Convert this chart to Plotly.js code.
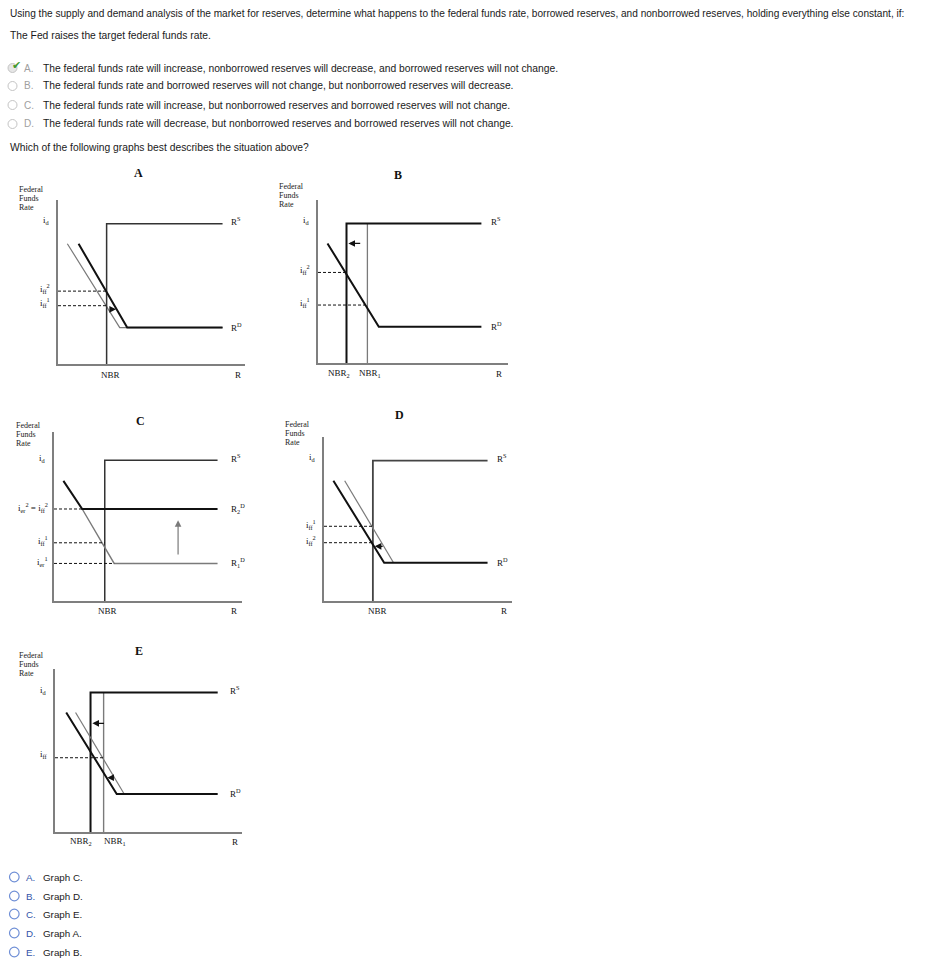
<!DOCTYPE html>
<html><head><meta charset="utf-8">
<script src="https://cdn.plot.ly/plotly-3.0.1.min.js"></script>
<style>html,body{margin:0;padding:0;background:#fff}#chart{width:939px;height:966px}</style>
</head><body><div id="chart"></div>
<script>
// ---------- question text ----------
const questionLines = [
  'Using the supply and demand analysis of the market for reserves, determine what happens to the federal funds rate, borrowed reserves, and nonborrowed reserves, holding everything else constant, if:',
  'The Fed raises the target federal funds rate.'
];
const answerLetters = ['A.', 'B.', 'C.', 'D.'];
const answerTexts = [
  'The federal funds rate will increase, nonborrowed reserves will decrease, and borrowed reserves will not change.',
  'The federal funds rate and borrowed reserves will not change, but nonborrowed reserves will decrease.',
  'The federal funds rate will increase, but nonborrowed reserves and borrowed reserves will not change.',
  'The federal funds rate will decrease, but nonborrowed reserves and borrowed reserves will not change.'
];
const question2 = 'Which of the following graphs best describes the situation above?';
const choiceLetters = ['A.', 'B.', 'C.', 'D.', 'E.'];
const choiceTexts = ['Graph C.', 'Graph D.', 'Graph E.', 'Graph A.', 'Graph B.'];
const yAxisLines = ['Federal', 'Funds', 'Rate'];

// ---------- Graph A ----------
const aSupplyX = [2.6, 2.6, 8.8];
const aSupplyY = [0, 7.7, 7.7];
const aDemand1X = [0.5, 3.3, 8.8];
const aDemand1Y = [6.6, 2.0, 2.0];
const aDemand2X = [1.1, 3.7, 8.8];
const aDemand2Y = [6.6, 2.0, 2.0];
const aRateLevels = [4.0, 3.2];
const aRateLabels = ['i<sub>ff</sub><sup>2</sup>', 'i<sub>ff</sub><sup>1</sup>'];
const aArrowX = [2.7, 3.1];
const aArrowY = [3.0, 3.0];

// ---------- Graph B ----------
const bNBR1X = [2.6, 2.6];
const bNBR1Y = [0, 7.7];
const bSupplyX = [1.5, 1.5, 8.6];
const bSupplyY = [0, 7.7, 7.7];
const bDemandX = [0.5, 3.2, 8.6];
const bDemandY = [6.6, 2.0, 2.0];
const bRateLevels = [5.0, 3.2];
const bRateEnds = [1.5, 2.6];
const bRateLabels = ['i<sub>ff</sub><sup>2</sup>', 'i<sub>ff</sub><sup>1</sup>'];
const bArrowX = [2.3, 1.6];
const bArrowY = [6.6, 6.6];

// ---------- Graph C ----------
const cSupplyX = [2.7, 2.7, 8.7];
const cSupplyY = [0, 7.5, 7.5];
const cDemand1X = [1.5, 3.2, 8.7];
const cDemand1Y = [4.9, 2.0, 2.0];
const cDemand2X = [0.5, 1.5, 8.7];
const cDemand2Y = [6.4, 4.9, 4.9];
const cRateLevels = [4.9, 3.1, 2.0];
const cRateEnds = [1.5, 2.7, 3.2];
const cRateLabels = ['i<sub>er</sub><sup>2</sup> = i<sub>ff</sub><sup>2</sup>', 'i<sub>ff</sub><sup>1</sup>', 'i<sub>er</sub><sup>1</sup>'];
const cArrowX = [6.6, 6.6];
const cArrowY = [2.4, 4.3];

// ---------- Graph D ----------
const dSupplyX = [2.6, 2.6, 8.7];
const dSupplyY = [0, 7.7, 7.7];
const dDemand1X = [1.1, 3.7];
const dDemand1Y = [6.6, 2.1];
const dDemand2X = [0.5, 3.2, 8.7];
const dDemand2Y = [6.6, 2.1, 2.1];
const dRateLevels = [4.1, 3.2];
const dRateLabels = ['i<sub>ff</sub><sup>1</sup>', 'i<sub>ff</sub><sup>2</sup>'];
const dArrowX = [3.2, 2.7];
const dArrowY = [3.0, 3.0];

// ---------- Graph E ----------
const eNBR1X = [2.6, 2.6];
const eNBR1Y = [0, 7.7];
const eSupplyX = [1.9, 1.9, 8.7];
const eSupplyY = [0, 7.7, 7.7];
const eDemand1X = [1.1, 3.7];
const eDemand1Y = [6.6, 2.1];
const eDemand2X = [0.6, 3.3, 8.7];
const eDemand2Y = [6.6, 2.1, 2.1];
const eRateLevels = [4.1];
const eRateLabels = ['i<sub>ff</sub>'];
const eArrow1X = [2.7, 2.0];
const eArrow1Y = [6.0, 6.0];
const eArrow2X = [3.2, 2.8];
const eArrow2Y = [3.0, 3.0];

// ---------- styling / helpers ----------
const W = 939, H = 966;
const SANS = 'Liberation Sans, Arial, sans-serif';
const SERIF = 'Liberation Serif, Times New Roman, serif';
const BLACK = '#111111', GREY = '#7a7a7a', DARK = '#333333';
const sfx = n => (n > 1 ? String(n) : '');
const boxes = [
  {x0: 58, x1: 245, y0: 364, y1: 200, xr: 10, yr: 9},
  {x0: 318, x1: 508, y0: 363, y1: 200, xr: 10, yr: 9},
  {x0: 54, x1: 242, y0: 601, y1: 432, xr: 10, yr: 9},
  {x0: 324, x1: 512, y0: 601, y1: 437, xr: 10, yr: 9},
  {x0: 55, x1: 242, y0: 832, y1: 669, xr: 10, yr: 9}
];

const traces = [];
const annotations = [];
const shapes = [];

function px(x) { return x / W; }
function py(y) { return 1 - y / H; }
function line(ax, xs, ys, color, width, dash) {
  traces.push({type: 'scatter', mode: 'lines', x: xs, y: ys,
    xaxis: 'x' + sfx(ax), yaxis: 'y' + sfx(ax),
    line: {color: color, width: width, dash: dash || 'solid'},
    hoverinfo: 'skip', showlegend: false, cliponaxis: false});
}
function dashed(ax, level, end) { line(ax, [0, end], [level, level], BLACK, 1, '3px,2px'); }
function toPix(ax, x, y) {
  const b = boxes[ax - 1];
  return [b.x0 + x / b.xr * (b.x1 - b.x0), b.y0 - y / b.yr * (b.y0 - b.y1)];
}
// labels are placed in paper space (converted from the graph's own units) so they may sit outside the axes
function lab(ax, x, y, text, o) {
  const p = toPix(ax, x, y);
  annotations.push(Object.assign({xref: 'paper', yref: 'paper', x: px(p[0]), y: py(p[1]), text: text,
    showarrow: false, font: {family: SERIF, size: 9, color: BLACK}, xanchor: 'center', yanchor: 'middle'}, o || {}));
}
function arrow(ax, xs, ys, color) {
  const r = sfx(ax);
  annotations.push({xref: 'x' + r, yref: 'y' + r, axref: 'x' + r, ayref: 'y' + r,
    x: xs[1], y: ys[1], ax: xs[0], ay: ys[0], text: '', showarrow: true,
    arrowhead: 2, arrowsize: 1.1, arrowwidth: 1.2, arrowcolor: color || BLACK});
}
function title(ax, x, y, t) { lab(ax, x, y, '<b>' + t + '</b>', {font: {family: SERIF, size: 12, color: BLACK}}); }
function ffr(ax, x, y) {
  const p = toPix(ax, x, y);
  yAxisLines.forEach((t, i) => {
    annotations.push({xref: 'paper', yref: 'paper', x: px(p[0]), y: py(p[1] + 9 * i), text: t,
      showarrow: false, xanchor: 'left', yanchor: 'middle', font: {family: SERIF, size: 8, color: '#222'}});
  });
}
function ptext(x, y, text, o) {
  annotations.push(Object.assign({xref: 'paper', yref: 'paper', x: px(x), y: py(y), text: text,
    showarrow: false, xanchor: 'left', yanchor: 'middle', font: {family: SANS, size: 10.3, color: '#1a1a1a'}}, o || {}));
}
function circle(cx, cy, r, stroke, fill, w) {
  shapes.push({type: 'circle', xref: 'paper', yref: 'paper', x0: px(cx - r), x1: px(cx + r),
    y0: py(cy + r), y1: py(cy - r), line: {color: stroke, width: w || 1}, fillcolor: fill || '#fff'});
}

// ---------- Graph A ----------
line(1, aDemand1X, aDemand1Y, GREY, 1.2);
line(1, aSupplyX, aSupplyY, DARK, 1.5);
line(1, aDemand2X, aDemand2Y, BLACK, 2);
aRateLevels.forEach((v, i) => { dashed(1, v, aSupplyX[0]); lab(1, -0.3, v + 0.15, aRateLabels[i], {xanchor: 'right'}); });
arrow(1, aArrowX, aArrowY);
lab(1, -0.3, 7.85, 'i<sub>d</sub>', {xanchor: 'right'});
lab(1, 9.15, 7.85, 'R<sup>S</sup>', {xanchor: 'left'});
lab(1, 9.15, 2.05, 'R<sup>D</sup>', {xanchor: 'left'});
lab(1, 2.8, -0.6, 'NBR');
lab(1, 9.6, -0.6, 'R');
title(1, 4.3, 10.5, 'A');
ffr(1, -2.19, 9.6);

// ---------- Graph B ----------
line(2, bNBR1X, bNBR1Y, GREY, 1.3);
line(2, bSupplyX, bSupplyY, BLACK, 2);
line(2, bDemandX, bDemandY, BLACK, 2);
bRateLevels.forEach((v, i) => { dashed(2, v, bRateEnds[i]); lab(2, -0.3, v + 0.15, bRateLabels[i], {xanchor: 'right'}); });
arrow(2, bArrowX, bArrowY);
lab(2, -0.3, 7.85, 'i<sub>d</sub>', {xanchor: 'right'});
lab(2, 9.0, 7.85, 'R<sup>S</sup>', {xanchor: 'left'});
lab(2, 9.0, 2.05, 'R<sup>D</sup>', {xanchor: 'left'});
lab(2, 1.1, -0.6, 'NBR<sub>2</sub>');
lab(2, 2.75, -0.6, 'NBR<sub>1</sub>');
lab(2, 9.5, -0.6, 'R');
title(2, 4.2, 10.4, 'B');
ffr(2, -2.16, 9.72);

// ---------- Graph C ----------
line(3, cSupplyX, cSupplyY, DARK, 1.5);
line(3, cDemand1X, cDemand1Y, GREY, 1.4);
line(3, cDemand2X, cDemand2Y, BLACK, 2);
cRateLevels.forEach((v, i) => { dashed(3, v, cRateEnds[i]); lab(3, -0.2, v + 0.1, cRateLabels[i], {xanchor: 'right'}); });
arrow(3, cArrowX, cArrowY, GREY);
lab(3, -0.3, 7.6, 'i<sub>d</sub>', {xanchor: 'right'});
lab(3, 9.3, 7.6, 'R<sup>S</sup>', {xanchor: 'left'});
lab(3, 9.3, 4.95, 'R<sub>2</sub><sup>D</sup>', {xanchor: 'left'});
lab(3, 9.3, 2.05, 'R<sub>1</sub><sup>D</sup>', {xanchor: 'left'});
lab(3, 2.87, -0.53, 'NBR');
lab(3, 9.6, -0.53, 'R');
title(3, 4.6, 9.6, 'C');
ffr(3, -2.13, 9.36);

// ---------- Graph D ----------
line(4, dSupplyX, dSupplyY, '#444', 1.8);
line(4, dDemand1X, dDemand1Y, GREY, 1.2);
line(4, dDemand2X, dDemand2Y, BLACK, 2);
dRateLevels.forEach((v, i) => { dashed(4, v, dSupplyX[0]); lab(4, -0.3, v + 0.1, dRateLabels[i], {xanchor: 'right'}); });
arrow(4, dArrowX, dArrowY);
lab(4, -0.3, 7.85, 'i<sub>d</sub>', {xanchor: 'right'});
lab(4, 9.1, 7.85, 'R<sup>S</sup>', {xanchor: 'left'});
lab(4, 9.1, 2.15, 'R<sup>D</sup>', {xanchor: 'left'});
lab(4, 2.87, -0.55, 'NBR');
lab(4, 9.6, -0.55, 'R');
title(4, 4.0, 10.2, 'D');
ffr(4, -2.18, 9.67);

// ---------- Graph E ----------
line(5, eNBR1X, eNBR1Y, GREY, 1.4);
line(5, eSupplyX, eSupplyY, BLACK, 2);
line(5, eDemand1X, eDemand1Y, GREY, 1.2);
line(5, eDemand2X, eDemand2Y, BLACK, 2);
eRateLevels.forEach((v, i) => { dashed(5, v, eNBR1X[0]); lab(5, -0.3, v + 0.2, eRateLabels[i], {xanchor: 'right'}); });
arrow(5, eArrow1X, eArrow1Y);
arrow(5, eArrow2X, eArrow2Y);
lab(5, -0.3, 7.8, 'i<sub>d</sub>', {xanchor: 'right'});
lab(5, 9.25, 7.85, 'R<sup>S</sup>', {xanchor: 'left'});
lab(5, 9.25, 2.15, 'R<sup>D</sup>', {xanchor: 'left'});
lab(5, 1.4, -0.55, 'NBR<sub>2</sub>');
lab(5, 3.2, -0.55, 'NBR<sub>1</sub>');
lab(5, 9.6, -0.55, 'R');
title(5, 4.5, 10.0, 'E');
ffr(5, -2.03, 9.72);

// ---------- page text ----------
ptext(8, 14, questionLines[0], {font: {family: SANS, size: 10.1, color: '#1a1a1a'}});
ptext(8, 35, questionLines[1]);
const optY = [68, 86, 105, 124];
answerTexts.forEach((t, i) => {
  circle(12.5, optY[i], 4.5, '#c4c4c4', i === 0 ? '#e6e6e6' : '#fff', 1);
  ptext(22, optY[i], answerLetters[i], {font: {family: SANS, size: 10, color: '#a0a0a0'}});
  ptext(41, optY[i], t);
});
annotations.push({xref: 'paper', yref: 'paper', x: px(16), y: py(65), text: '\u2714', showarrow: false,
  xanchor: 'center', yanchor: 'middle', font: {family: 'DejaVu Sans', size: 11, color: '#3f9a2e'}});
ptext(8, 147, question2);
const choiceY = [877, 896, 914, 933, 952];
choiceTexts.forEach((t, i) => {
  circle(14.3, choiceY[i], 4.8, '#6f8fd6', '#fff', 1.2);
  ptext(24, choiceY[i], choiceLetters[i], {font: {family: SANS, size: 9.8, color: '#3355aa'}});
  ptext(41, choiceY[i], t, {font: {family: SANS, size: 9.8, color: '#1a1a1a'}});
});

// ---------- axes ----------
const layout = {
  width: W, height: H, margin: {l: 0, r: 0, t: 0, b: 0, pad: 0},
  paper_bgcolor: '#ffffff', plot_bgcolor: 'rgba(0,0,0,0)', showlegend: false,
  annotations: annotations, shapes: shapes, hovermode: false
};
boxes.forEach((b, i) => {
  const s = sfx(i + 1);
  const common = {showline: true, linecolor: '#7f7f7f', linewidth: 2, showgrid: false, zeroline: false,
    showticklabels: false, ticks: '', fixedrange: true};
  layout['xaxis' + s] = Object.assign({}, common, {domain: [px(b.x0), px(b.x1)], range: [0, b.xr], anchor: 'y' + s});
  layout['yaxis' + s] = Object.assign({}, common, {domain: [py(b.y0), py(b.y1)], range: [0, b.yr], anchor: 'x' + s});
});

Plotly.newPlot('chart', traces, layout, {staticPlot: true, displayModeBar: false});
</script></body></html>
